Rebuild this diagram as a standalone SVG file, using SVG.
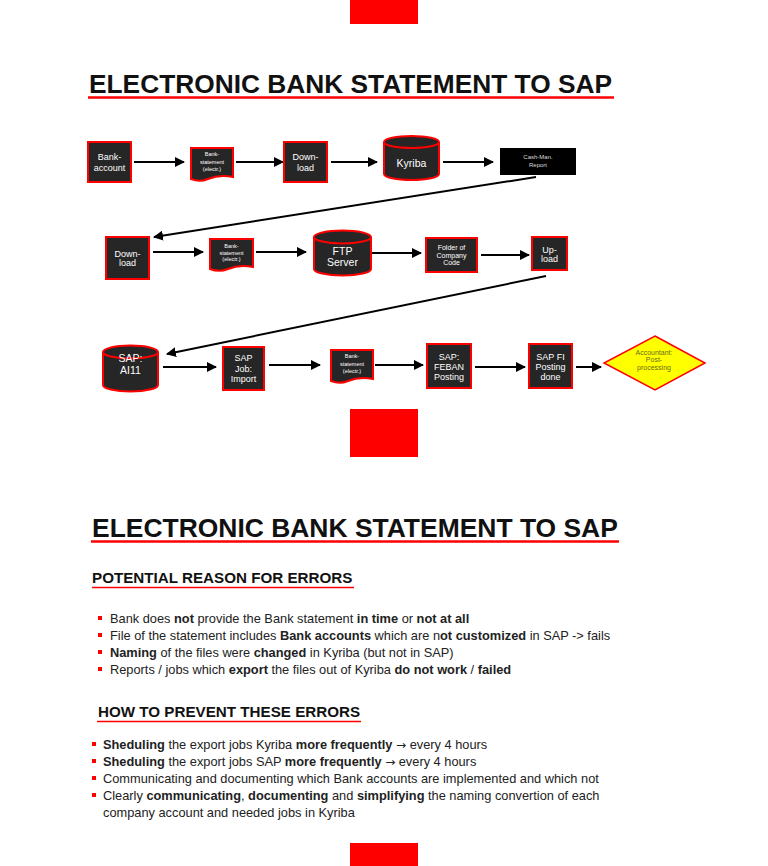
<svg xmlns="http://www.w3.org/2000/svg" width="768" height="866" viewBox="0 0 768 866">
<style>
.bg{fill:#ffffff}
.red{fill:#ff0000}
.box{fill:#262626;stroke:#ff0000;stroke-width:2}
.blk{fill:#000000}
.dia{fill:#ffff00;stroke:#ff0000;stroke-width:1.5}
.t{font-family:"Liberation Sans",Arial,sans-serif;fill:#ffffff;text-anchor:middle}
.t9{font-size:9px}
.t10{font-size:10.5px}
.t7{font-size:7px}
.t6{font-size:6px;fill:#dddddd}
.t5{font-size:5.5px}
.ty{fill:#6b6b20}
.title{font-family:"Liberation Sans",Arial,sans-serif;font-weight:bold;font-size:26.3px;fill:#111111}
.title2{font-family:"Liberation Sans",Arial,sans-serif;font-weight:bold;font-size:26.45px;fill:#111111}
.h2{font-family:"Liberation Sans",Arial,sans-serif;font-weight:bold;font-size:15.2px;fill:#111111}
.li{font-family:"Liberation Sans",Arial,sans-serif;font-size:12.8px;fill:#222222}
.b{font-weight:bold}
.ar{font-family:"DejaVu Sans",sans-serif;font-size:12px}
.ul{stroke:#ff0000;stroke-width:2.5}
.ul2{stroke:#ff0000;stroke-width:1.5}
.arr{stroke:#000000;stroke-width:2;fill:none;marker-end:url(#ah)}
</style>
<defs>
<marker id="ah" viewBox="0 0 10 10" refX="9" refY="5" markerWidth="5" markerHeight="5" orient="auto" markerUnits="strokeWidth">
<path d="M0,0 L10,5 L0,10 Z" fill="#000000"/>
</marker>
</defs>
<rect class="bg" x="0" y="0" width="768" height="866"/>

<!-- red page markers -->
<rect class="red" x="350" y="0" width="68" height="24"/>
<rect class="red" x="350" y="409" width="68" height="48"/>
<rect class="red" x="350" y="843" width="68" height="23"/>

<!-- Titles -->
<text class="title" x="89" y="93">ELECTRONIC BANK STATEMENT TO SAP</text>
<line class="ul" x1="88" y1="97.5" x2="614" y2="97.5"/>
<text class="title2" x="92" y="537">ELECTRONIC BANK STATEMENT TO SAP</text>
<line class="ul" x1="91" y1="541.5" x2="619" y2="541.5"/>

<!-- Connectors -->
<g id="connectors">
<line class="arr" x1="134" y1="162" x2="184" y2="162"/>
<line class="arr" x1="236" y1="162" x2="283" y2="162"/>
<line class="arr" x1="331" y1="162" x2="377" y2="162"/>
<line class="arr" x1="443" y1="162" x2="493" y2="162"/>
<line class="arr" x1="536" y1="177" x2="154" y2="237"/>
<line class="arr" x1="153" y1="252" x2="203" y2="252"/>
<line class="arr" x1="256" y1="252" x2="306" y2="252"/>
<line class="arr" x1="372" y1="253" x2="421" y2="253"/>
<line class="arr" x1="481" y1="255" x2="529" y2="255"/>
<line class="arr" x1="546" y1="276" x2="167" y2="354"/>
<line class="arr" x1="163" y1="367" x2="216" y2="367"/>
<line class="arr" x1="269" y1="365" x2="320" y2="365"/>
<line class="arr" x1="375" y1="365" x2="423" y2="365"/>
<line class="arr" x1="475" y1="367" x2="525" y2="367"/>
<line class="arr" x1="576" y1="367" x2="601" y2="367"/>
</g>

<!-- Row 1 -->
<g id="bank-account">
<rect class="box" x="88" y="142" width="43" height="40"/>
<text class="t t9" x="109.5" y="160">Bank-</text>
<text class="t t9" x="109.5" y="170.5">account</text>
</g>
<g id="bank-statement-1">
<path class="box" d="M191,148 H233 V177 C224,175 215,176 208,179 C201,182 196,181 191,179 Z" stroke-width="1.5"/>
<text class="t t5" x="212" y="156">Bank-</text>
<text class="t t5" x="212" y="163.5">statement</text>
<text class="t t5" x="212" y="171">(electr.)</text>
</g>
<g id="download-1">
<rect class="box" x="284" y="142" width="43" height="40"/>
<text class="t t9" x="305.5" y="160">Down-</text>
<text class="t t9" x="305.5" y="170.5">load</text>
</g>
<g id="kyriba">
<path class="box" d="M384,142 A27.5,6 0 0 1 439,142 V174 A27.5,6 0 0 1 384,174 Z"/>
<path d="M384,142 A27.5,6 0 0 0 439,142" fill="none" stroke="#ff0000" stroke-width="2"/>
<text class="t t10" x="411.5" y="166.5">Kyriba</text>
</g>
<g id="cash-man-report">
<rect class="blk" x="500" y="148" width="76" height="27"/>
<text class="t t6" x="538" y="158.5">Cash-Man.</text>
<text class="t t6" x="538" y="167">Report</text>
</g>

<!-- Row 2 -->
<g id="download-2">
<rect class="box" x="106" y="237" width="43" height="42"/>
<text class="t t9" x="127.5" y="256.5">Down-</text>
<text class="t t9" x="127.5" y="266">load</text>
</g>
<g id="bank-statement-2">
<path class="box" d="M210,239 H253 V267 C244,265 235,266 228,269 C221,272 215,271 210,269 Z" stroke-width="1.5"/>
<text class="t t5" x="231.5" y="248">Bank-</text>
<text class="t t5" x="231.5" y="254.5">statement</text>
<text class="t t5" x="231.5" y="261">(electr.)</text>
</g>
<g id="ftp-server">
<path class="box" d="M314,237 A28.5,6.5 0 0 1 371,237 V269 A28.5,6.5 0 0 1 314,269 Z"/>
<path d="M314,237 A28.5,6.5 0 0 0 371,237" fill="none" stroke="#ff0000" stroke-width="2"/>
<text class="t t10" x="342.5" y="255">FTP</text>
<text class="t t10" x="342.5" y="266">Server</text>
</g>
<g id="folder-company-code">
<rect class="box" x="426" y="238" width="51" height="34"/>
<text class="t t7" x="451.5" y="250">Folder of</text>
<text class="t t7" x="451.5" y="257.5">Company</text>
<text class="t t7" x="451.5" y="265">Code</text>
</g>
<g id="upload">
<rect class="box" x="532" y="237" width="35" height="33"/>
<text class="t t9" x="549.5" y="252.5">Up-</text>
<text class="t t9" x="549.5" y="262">load</text>
</g>

<!-- Row 3 -->
<g id="sap-ai11">
<path class="box" d="M103,352 A27.5,6.5 0 0 1 158,352 V385 A27.5,6.5 0 0 1 103,385 Z"/>
<path d="M103,352 A27.5,6.5 0 0 0 158,352" fill="none" stroke="#ff0000" stroke-width="2"/>
<text class="t t10" x="130.5" y="362">SAP:</text>
<text class="t t10" x="130.5" y="373.5">AI11</text>
</g>
<g id="sap-job-import">
<rect class="box" x="223" y="347" width="41" height="43"/>
<text class="t t9" x="243.5" y="361">SAP</text>
<text class="t t9" x="243.5" y="371.5">Job:</text>
<text class="t t9" x="243.5" y="382">Import</text>
</g>
<g id="bank-statement-3">
<path class="box" d="M331,350 H373 V379 C364,377 355,378 348,381 C341,384 336,383 331,381 Z" stroke-width="1.5"/>
<text class="t t5" x="352" y="358">Bank-</text>
<text class="t t5" x="352" y="365.5">statement</text>
<text class="t t5" x="352" y="373">(electr.)</text>
</g>
<g id="sap-feban">
<rect class="box" x="427" y="344" width="44" height="44"/>
<text class="t t9" x="449" y="359.5">SAP:</text>
<text class="t t9" x="449" y="369.5">FEBAN</text>
<text class="t t9" x="449" y="379.5">Posting</text>
</g>
<g id="sap-fi-posting">
<rect class="box" x="529" y="344" width="43" height="44"/>
<text class="t t9" x="550.5" y="359.5">SAP FI</text>
<text class="t t9" x="550.5" y="369.5">Posting</text>
<text class="t t9" x="550.5" y="379.5">done</text>
</g>
<g id="accountant">
<polygon class="dia" points="655,336 705,363 655,390 604,363"/>
<text class="t t7 ty" x="654" y="354.5">Accountant:</text>
<text class="t t7 ty" x="654" y="362">Post-</text>
<text class="t t7 ty" x="654" y="369.5">processing</text>
</g>

<!-- Section: potential reasons -->
<text class="h2" x="92" y="583">POTENTIAL REASON FOR ERRORS</text>
<line class="ul2" x1="92" y1="587.5" x2="354" y2="587.5"/>

<rect class="red" x="98" y="616" width="4" height="4"/>
<text class="li" x="110" y="622.5">Bank does <tspan class="b">not</tspan> provide the Bank statement <tspan class="b">in time</tspan> or <tspan class="b">not at all</tspan></text>
<rect class="red" x="98" y="633" width="4" height="4"/>
<text class="li" x="110" y="639.5">File of the statement includes <tspan class="b">Bank accounts</tspan> which are n<tspan class="b">ot customized</tspan> in SAP -&gt; fails</text>
<rect class="red" x="98" y="650" width="4" height="4"/>
<text class="li" x="110" y="656.5"><tspan class="b">Naming</tspan> of the files were <tspan class="b">changed</tspan> in Kyriba (but not in SAP)</text>
<rect class="red" x="98" y="667" width="4" height="4"/>
<text class="li" x="110" y="673.5">Reports / jobs which <tspan class="b">export</tspan> the files out of Kyriba <tspan class="b">do not work</tspan> / <tspan class="b">failed</tspan></text>

<!-- Section: prevention -->
<text class="h2" x="98" y="717">HOW TO PREVENT THESE ERRORS</text>
<line class="ul2" x1="97" y1="721.5" x2="361" y2="721.5"/>

<rect class="red" x="92" y="742" width="4" height="4"/>
<text class="li" x="103" y="748.5"><tspan class="b">Sheduling</tspan> the export jobs Kyriba <tspan class="b">more frequently</tspan> <tspan class="ar">→</tspan> every 4 hours</text>
<rect class="red" x="92" y="759" width="4" height="4"/>
<text class="li" x="103" y="765.5"><tspan class="b">Sheduling</tspan> the export jobs SAP <tspan class="b">more frequently</tspan> <tspan class="ar">→</tspan> every 4 hours</text>
<rect class="red" x="92" y="776" width="4" height="4"/>
<text class="li" x="103" y="782.5">Communicating and documenting which Bank accounts are implemented and which not</text>
<rect class="red" x="92" y="793" width="4" height="4"/>
<text class="li" x="103" y="799.5">Clearly <tspan class="b">communicating</tspan>, <tspan class="b">documenting</tspan> and <tspan class="b">simplifying</tspan> the naming convertion of each</text>
<text class="li" x="103" y="816.5">company account and needed jobs in Kyriba</text>
</svg>
